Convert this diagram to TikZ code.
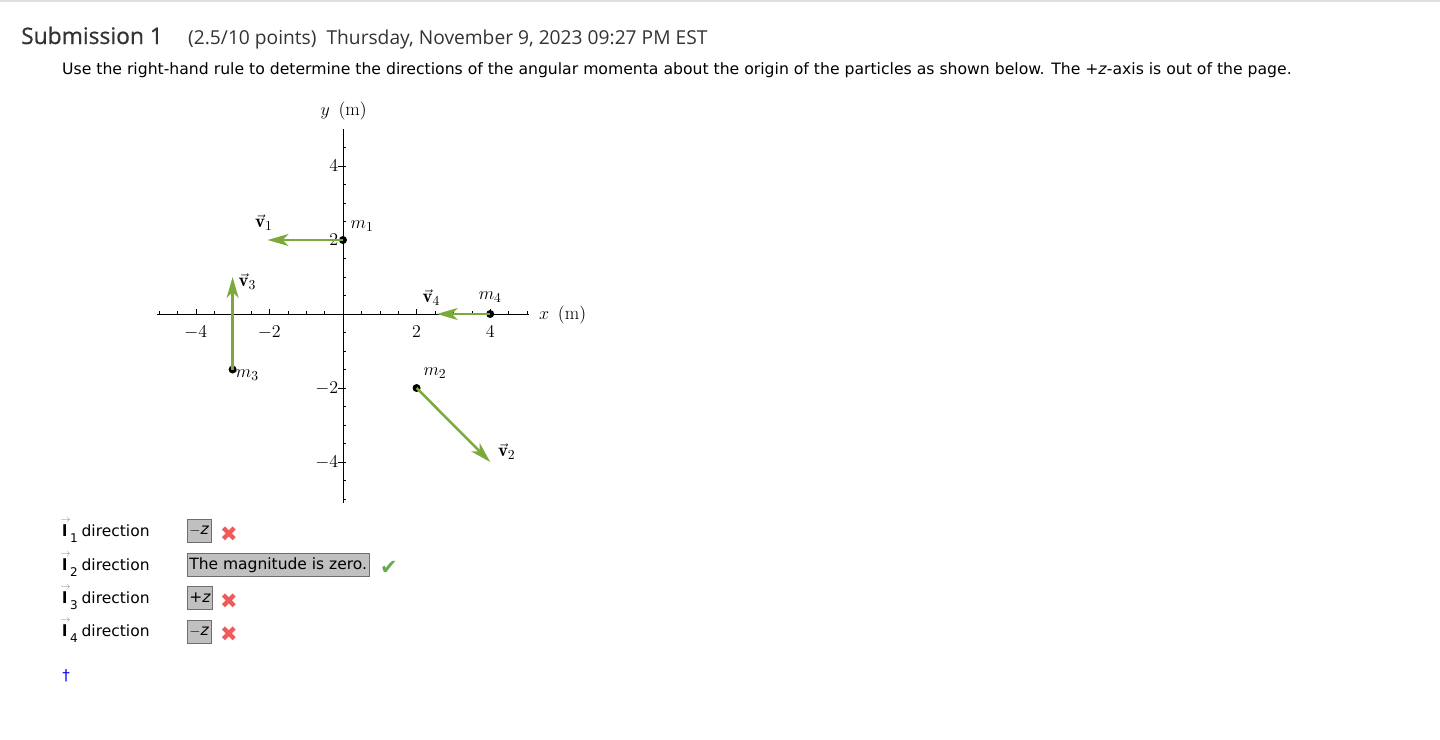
\documentclass[tikz,border=0pt]{standalone}
\usepackage{fontspec}
\usepackage{amsmath, amssymb}
\usepackage{graphicx}
\usetikzlibrary{arrows.meta,positioning}

\newfontfamily\headfont{Open Sans}
\newfontfamily\titlefont{Open Sans}[FakeBold=0.7]
\newfontfamily\bodyfont{DejaVu Sans}

\definecolor{arrowgreen}{RGB}{124,170,58}
\definecolor{headgray}{RGB}{51,51,51}
\definecolor{boxfill}{RGB}{192,192,192}
\definecolor{boxline}{RGB}{110,110,110}
\definecolor{crossred}{RGB}{240,90,90}
\definecolor{checkgreen}{RGB}{100,170,80}

\tikzset{
  velocity/.style={arrowgreen, line width=2.5pt,
    -{Stealth[length=21pt,width=12pt,inset=6pt]}},
  particle/.style={circle, fill=black, inner sep=0pt, minimum size=8pt},
  plotlabel/.style={font=\fontsize{15}{15}\selectfont, inner sep=1pt},
  ticklabel/.style={font=\fontsize{14}{14}\selectfont, inner sep=1pt},
  answerbox/.style={draw=boxline, fill=boxfill, line width=0.8pt,
    minimum height=23pt, inner sep=2pt, anchor=west,
    font=\bodyfont\fontsize{15.5}{15.5}\selectfont},
  rowlabel/.style={anchor=base west, inner sep=0pt,
    font=\bodyfont\fontsize{15.5}{15.5}\selectfont},
  markglyph/.style={anchor=center, inner sep=0pt, font=\bodyfont\fontsize{21}{21}\selectfont}
}

% math of the plot, a little larger
\newcommand{\plotmath}[1]{\scalebox{1.25}{$#1$}}

% bold l with a small arrow over it
\newcommand{\lvecsym}[1]{%
  \rlap{\raisebox{1.65ex}{\kern-1.5pt\textcolor{gray}{\fontsize{10}{10}\selectfont$\rightarrow$}}}%
  \textbf{l}\kern2.5pt\raisebox{-0.75ex}{\fontsize{12}{12}\selectfont #1}\kern4pt}

\begin{document}
\begin{tikzpicture}[x=1pt,y=-1pt]
  \useasboundingbox (0,0) rectangle (1440,739);

  % page frame line on top
  \draw[gray!25, line width=1.5pt] (0,1) -- (1440,1);

  % header
  \node[anchor=base west, inner sep=0pt, text=headgray,
        font=\titlefont\fontsize{22.8}{22.8}\selectfont] (title) at (21,44) {Submission 1};
  \node[anchor=base west, inner sep=0pt, text=headgray,
        font=\headfont\fontsize{19.2}{19.2}\selectfont] (score) at (188,44)
        {(2.5/10 points)\ \ Thursday, November 9, 2023 09:27 PM EST};
  \node[anchor=base west, inner sep=0pt,
        font=\bodyfont\fontsize{15.65}{15.65}\selectfont] (question) at (62,74)
        {Use the right-hand rule to determine the directions of the angular momenta about the origin of the particles as shown below. The +\textit{z}-axis is out of the page.};

  % the plot
  \begin{scope}[shift={(343,314)}, x=36.8pt, y=37pt]
    \def\xmin{-5.05}
    \def\xmax{5.05}
    \def\ymin{-5.1}
    \def\ymax{5.0}

    % axes
    \draw[line width=0.8pt] (\xmin,0) -- (\xmax,0);
    \draw[line width=0.8pt] (0,\ymin) -- (0,\ymax);
    \node[plotlabel, anchor=west] (xlab) at (5.3,-0.02) {\plotmath{x\ \,\mathrm{(m)}}};
    \node[plotlabel, anchor=south] (ylab) at (0.02,5.2) {\plotmath{y\ \,\mathrm{(m)}}};

    % ticks
    \foreach \t in {-5,-4.5,...,5} {
      \draw[line width=0.6pt] (\t,0) -- ++(0,3pt);
    }
    \foreach \t in {-5,-4.5,...,4.5} {
      \draw[line width=0.6pt] (0,\t) -- ++(3pt,0);
    }
    \foreach \t in {-4,-2,2,4} {
      \draw[line width=0.6pt] (\t,0) -- ++(0,5pt);
      \draw[line width=0.6pt] (0,\t) -- ++(-5pt,0);
      \node[ticklabel, anchor=north] at (\t,-0.28) {\plotmath{\t}};
      \node[ticklabel, anchor=east] at (-0.1,\t) {\plotmath{\t}};
    }

    % particles
    \node[particle] (m1) at (0,2) {};
    \node[particle] (m2) at (2,-2) {};
    \node[particle] (m3) at (-3,-1.5) {};
    \node[particle] (m4) at (4,0) {};

    % velocity tips
    \coordinate (v1tip) at (-2.05,2);
    \coordinate (v2tip) at (4,-4);
    \coordinate (v3tip) at (-3,1);
    \coordinate (v4tip) at (2.55,0);

    % velocities
    \draw[velocity] (m1.center) -- (v1tip);
    \draw[velocity] (m2.center) -- (v2tip);
    \draw[velocity] (m3.center) -- (v3tip);
    \draw[velocity] (m4.center) -- (v4tip);

    % labels
    \node[plotlabel] (m1lab) at (0.52,2.38) {\plotmath{m_1}};
    \node[plotlabel] (m2lab) at (2.5,-1.6) {\plotmath{m_2}};
    \node[plotlabel] (m3lab) at (-2.6,-1.65) {\plotmath{m_3}};
    \node[plotlabel] (m4lab) at (4,0.45) {\plotmath{m_4}};
    \node[plotlabel] (v1lab) at (-2.15,2.48) {\plotmath{\vec{\mathbf{v}}_1}};
    \node[plotlabel] (v2lab) at (4.45,-3.72) {\plotmath{\vec{\mathbf{v}}_2}};
    \node[plotlabel] (v3lab) at (-2.6,0.88) {\plotmath{\vec{\mathbf{v}}_3}};
    \node[plotlabel] (v4lab) at (2.4,0.45) {\plotmath{\vec{\mathbf{v}}_4}};
  \end{scope}

  % answer rows
  \node[rowlabel] (l1) at (62,536) {\lvecsym{1} direction};
  \node[rowlabel] (l2) at (62,570) {\lvecsym{2} direction};
  \node[rowlabel] (l3) at (62,603) {\lvecsym{3} direction};
  \node[rowlabel] (l4) at (62,636) {\lvecsym{4} direction};

  \node[answerbox] (a1) at (187,531) {$-$\textit{z}};
  \node[answerbox] (a2) at (187,565) {The magnitude is zero.};
  \node[answerbox] (a3) at (187,598) {+\textit{z}};
  \node[answerbox] (a4) at (187,632) {$-$\textit{z}};

  \node[markglyph, text=crossred] (c1) at (229,534) {✖};
  \node[markglyph, text=checkgreen] (c2) at (389,568) {✔};
  \node[markglyph, text=crossred] (c3) at (229,601) {✖};
  \node[markglyph, text=crossred] (c4) at (229,634) {✖};

  % footnote mark
  \node[anchor=center, text=blue, inner sep=0pt,
        font=\bodyfont\fontsize{15}{15}\selectfont] (dag) at (66,676) {†};
\end{tikzpicture}
\end{document}
